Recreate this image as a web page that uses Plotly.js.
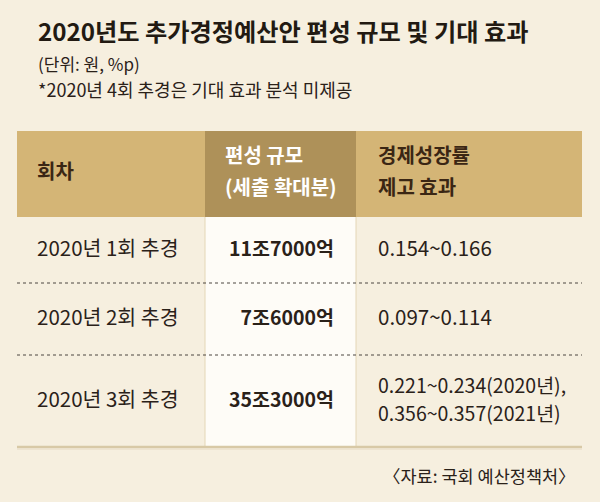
<!DOCTYPE html>
<html>
<head>
<meta charset="utf-8">
<script src="https://cdn.plot.ly/plotly-3.0.1.min.js"></script>
<style>
  html, body { margin: 0; padding: 0; background: #f6efdf; }
  #chart { width: 600px; height: 502px; }
</style>
</head>
<body>
<div id="chart"></div>
<script>
// table content
const headerTop = ['회차', '편성 규모', '경제성장률'];
const headerBottom = ['', '(세출 확대분)', '제고 효과'];
const rounds = ['2020년 1회 추경', '2020년 2회 추경', '2020년 3회 추경'];
const budgetSize = ['11조7000억', '7조6000억', '35조3000억'];
const growthEffect = ['0.154~0.166', '0.097~0.114', '0.221~0.234(2020년),'];
const growthEffectNext = ['', '', '0.356~0.357(2021년)'];

const titleText = '2020년도 추가경정예산안 편성 규모 및 기대 효과';
const unitText = '(단위: 원, %p)';
const noteText = '*2020년 4회 추경은 기대 효과 분석 미제공';
const sourceText = '〈자료: 국회 예산정책처〉';

function main() {
    const font = 'Noto Sans CJK KR, Noto Sans, sans-serif';
    const ink = '#2a2119';

    // table geometry (pixels, axes map 1:1 to the page)
    const left = 17, right = 582;
    const colEdge = [205, 356];
    const headTop = 131, headBottom = 217;
    const rowEdge = [217, 283, 355, 447];
    const rowMid = rowEdge.slice(0, -1).map((t, i) => (t + rowEdge[i + 1]) / 2 + 1);
    const headMid = (headTop + headBottom) / 2;

    const textX = [37, 334, 378];
    const headX = [37, 225, 378];
    const headColor = ['#3a2614', '#ffffff', '#3a2614'];

    const cellTrace = (xs, ys, texts, pos, size, color, weight) => ({
        type: 'scatter',
        mode: 'text',
        x: xs, y: ys, text: texts,
        textposition: pos,
        textfont: { family: font, size: size, color: color, weight: weight },
        hoverinfo: 'skip',
        showlegend: false
    });

    const data = [];
    // header cells (one or two lines)
    headerTop.forEach((t, i) => {
        const twoLines = headerBottom[i] !== '';
        data.push(cellTrace([headX[i]], [twoLines ? headMid - 16 : headMid], [t], 'middle right', 20, headColor[i], 700));
        if (twoLines) {
            data.push(cellTrace([headX[i]], [headMid + 16], [headerBottom[i]], 'middle right', 20, headColor[i], 700));
        }
    });
    // body cells
    data.push(cellTrace(rounds.map(() => textX[0]), rowMid, rounds, 'middle right', 20.5, ink, 400));
    data.push(cellTrace(budgetSize.map(() => textX[1]), rowMid, budgetSize, 'middle left', 19.5, ink, 700));
    // growth effect: second line only where present
    const effY = growthEffect.map((t, i) => growthEffectNext[i] ? rowMid[i] - 14 : rowMid[i]);
    const effSize = growthEffect.map((t, i) => growthEffectNext[i] ? 19.5 : 20.5);
    data.push(cellTrace(growthEffect.map(() => textX[2]), effY, growthEffect, 'middle right', effSize, ink, 400));
    growthEffectNext.forEach((t, i) => {
        if (t) data.push(cellTrace([textX[2]], [rowMid[i] + 14], [t], 'middle right', 19.5, ink, 400));
    });

    const shapes = [
        // header band
        { type: 'rect', x0: left, x1: right, y0: headTop, y1: headBottom, fillcolor: '#d4b576', line: { width: 0 }, layer: 'below' },
        { type: 'rect', x0: colEdge[0], x1: colEdge[1], y0: headTop, y1: headBottom, fillcolor: '#ae9159', line: { width: 0 }, layer: 'below' },
        // highlighted middle column
        { type: 'rect', x0: colEdge[0], x1: colEdge[1], y0: rowEdge[0], y1: rowEdge[3], fillcolor: '#fefcf7', line: { width: 0 }, layer: 'below' },
        // column separators
        { type: 'line', x0: colEdge[0], x1: colEdge[0], y0: rowEdge[0], y1: rowEdge[3], line: { color: '#e4d6b6', width: 1 }, layer: 'below' },
        { type: 'line', x0: colEdge[1], x1: colEdge[1], y0: rowEdge[0], y1: rowEdge[3], line: { color: '#e4d6b6', width: 1 }, layer: 'below' },
        // dashed row separators
        { type: 'line', x0: left, x1: right, y0: rowEdge[1], y1: rowEdge[1], line: { color: '#4d4740', width: 1, dash: 'dot' } },
        { type: 'line', x0: left, x1: right, y0: rowEdge[2], y1: rowEdge[2], line: { color: '#4d4740', width: 1, dash: 'dot' } },
        // bottom rule
        { type: 'line', x0: left, x1: right, y0: rowEdge[3], y1: rowEdge[3], line: { color: '#d8c9a6', width: 2.5 } },
        { type: 'line', x0: left, x1: right, y0: rowEdge[3] + 2, y1: rowEdge[3] + 2, line: { color: '#ebe1cb', width: 1.5 } }
    ];

    const annotations = [
        { text: titleText, x: 36, y: 30, xanchor: 'left', yanchor: 'middle',
          font: { family: font, size: 24.2, color: '#221a12', weight: 700 } },
        { text: unitText, x: 36, y: 63, xanchor: 'left', yanchor: 'middle',
          font: { family: font, size: 17, color: ink } },
        { text: noteText, x: 36, y: 89, xanchor: 'left', yanchor: 'middle',
          font: { family: font, size: 18, color: ink } },
        { text: sourceText, x: 578, y: 475, xanchor: 'right', yanchor: 'middle',
          font: { family: font, size: 17.5, color: ink } }
    ].map(a => Object.assign({ xref: 'x', yref: 'y', showarrow: false }, a));

    const layout = {
        width: 600,
        height: 502,
        margin: { l: 0, r: 0, t: 0, b: 0 },
        paper_bgcolor: '#f6efdf',
        plot_bgcolor: '#f6efdf',
        xaxis: { range: [0, 600], visible: false, fixedrange: true },
        yaxis: { range: [502, 0], visible: false, fixedrange: true },
        shapes: shapes,
        annotations: annotations,
        hovermode: false
    };

    Plotly.newPlot('chart', data, layout, { staticPlot: true });
}
main();
</script>
</body>
</html>
